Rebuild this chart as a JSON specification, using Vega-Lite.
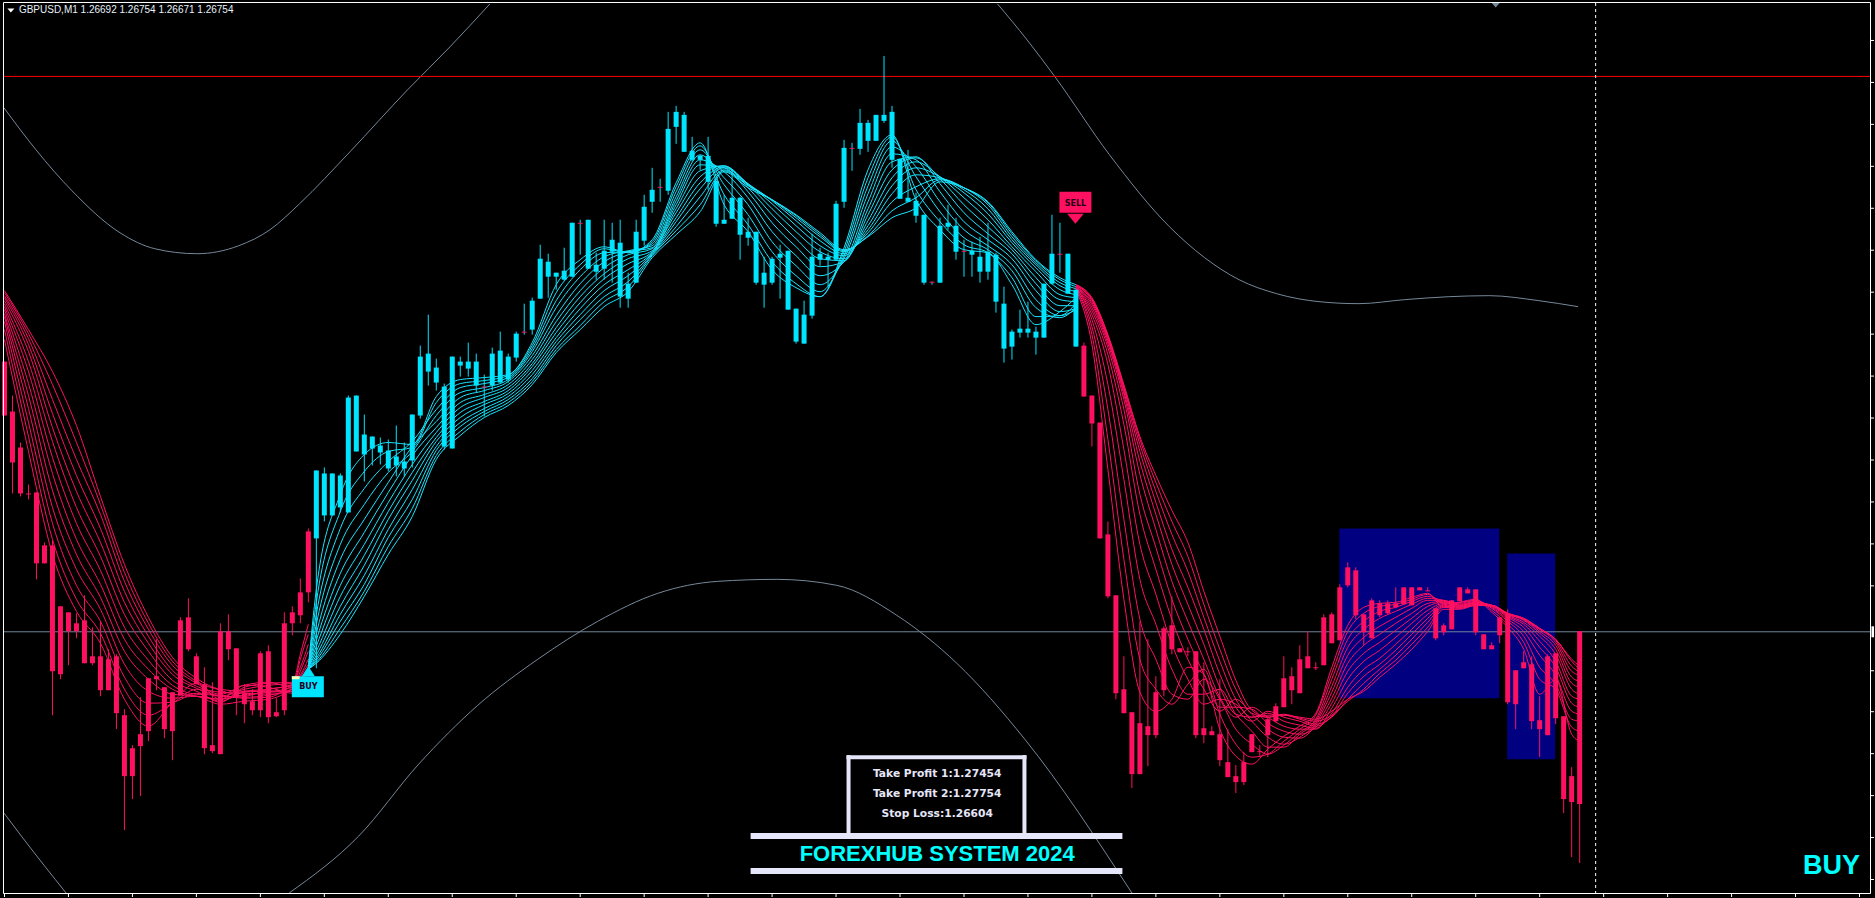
{"$schema":"https://vega.github.io/schema/vega-lite/v6.json","width":1875,"height":898,"padding":0,"autosize":{"type":"fit","contains":"padding"},"background":"#000000","config":{"view":{"stroke":null}},
"datasets":{
"candles":[
{"i":0,"t":"d","hi":362,"top":362,"bot":416,"lo":416},{"i":1,"t":"d","hi":396,"top":412,"bot":463,"lo":494},{"i":2,"t":"d","hi":443,"top":448,"bot":494,"lo":497},{"i":3,"t":"d","hi":485,"top":494,"bot":495,"lo":500},{"i":4,"t":"d","hi":493,"top":493,"bot":564,"lo":580},{"i":5,"t":"d","hi":543,"top":546,"bot":564,"lo":564},{"i":6,"t":"d","hi":541,"top":546,"bot":672,"lo":716},{"i":7,"t":"d","hi":607,"top":607,"bot":675,"lo":680},{"i":8,"t":"d","hi":613,"top":613,"bot":632,"lo":666},{"i":9,"t":"d","hi":614,"top":624,"bot":632,"lo":639},
{"i":10,"t":"d","hi":596,"top":621,"bot":664,"lo":664},{"i":11,"t":"d","hi":628,"top":657,"bot":664,"lo":666},{"i":12,"t":"d","hi":622,"top":657,"bot":691,"lo":697},{"i":13,"t":"d","hi":650,"top":660,"bot":691,"lo":691},{"i":14,"t":"d","hi":655,"top":657,"bot":714,"lo":730},{"i":15,"t":"d","hi":710,"top":716,"bot":777,"lo":831},{"i":16,"t":"d","hi":746,"top":749,"bot":777,"lo":800},{"i":17,"t":"d","hi":698,"top":735,"bot":747,"lo":797},{"i":18,"t":"d","hi":679,"top":679,"bot":732,"lo":742},{"i":19,"t":"d","hi":640,"top":677,"bot":680,"lo":691},
{"i":20,"t":"d","hi":688,"top":688,"bot":730,"lo":739},{"i":21,"t":"d","hi":693,"top":693,"bot":732,"lo":761},{"i":22,"t":"d","hi":618,"top":621,"bot":696,"lo":696},{"i":23,"t":"d","hi":599,"top":618,"bot":650,"lo":652},{"i":24,"t":"d","hi":654,"top":657,"bot":685,"lo":685},{"i":25,"t":"d","hi":668,"top":685,"bot":749,"lo":755},{"i":26,"t":"d","hi":683,"top":746,"bot":752,"lo":754},{"i":27,"t":"d","hi":624,"top":632,"bot":755,"lo":755},{"i":28,"t":"d","hi":615,"top":632,"bot":650,"lo":661},{"i":29,"t":"d","hi":649,"top":649,"bot":698,"lo":716},
{"i":30,"t":"d","hi":685,"top":694,"bot":705,"lo":724},{"i":31,"t":"d","hi":690,"top":702,"bot":711,"lo":716},{"i":32,"t":"d","hi":652,"top":654,"bot":711,"lo":718},{"i":33,"t":"d","hi":646,"top":652,"bot":718,"lo":724},{"i":34,"t":"d","hi":699,"top":713,"bot":717,"lo":718},{"i":35,"t":"d","hi":613,"top":624,"bot":711,"lo":716},{"i":36,"t":"d","hi":607,"top":613,"bot":624,"lo":636},{"i":37,"t":"d","hi":579,"top":593,"bot":616,"lo":624},{"i":38,"t":"d","hi":529,"top":532,"bot":593,"lo":603},{"i":39,"t":"u","hi":471,"top":471,"bot":539,"lo":669},
{"i":40,"t":"u","hi":468,"top":474,"bot":516,"lo":522},{"i":41,"t":"u","hi":474,"top":474,"bot":516,"lo":516},{"i":42,"t":"u","hi":474,"top":476,"bot":508,"lo":513},{"i":43,"t":"u","hi":396,"top":398,"bot":513,"lo":513},{"i":44,"t":"u","hi":396,"top":396,"bot":452,"lo":452},{"i":45,"t":"u","hi":415,"top":435,"bot":455,"lo":482},{"i":46,"t":"u","hi":437,"top":437,"bot":449,"lo":466},{"i":47,"t":"u","hi":438,"top":446,"bot":453,"lo":465},{"i":48,"t":"u","hi":440,"top":451,"bot":469,"lo":472},{"i":49,"t":"u","hi":426,"top":457,"bot":466,"lo":477},
{"i":50,"t":"u","hi":443,"top":462,"bot":469,"lo":477},{"i":51,"t":"u","hi":415,"top":415,"bot":461,"lo":468},{"i":52,"t":"u","hi":346,"top":357,"bot":416,"lo":419},{"i":53,"t":"u","hi":315,"top":354,"bot":372,"lo":386},{"i":54,"t":"u","hi":359,"top":368,"bot":383,"lo":391},{"i":55,"t":"u","hi":384,"top":387,"bot":447,"lo":450},{"i":56,"t":"u","hi":357,"top":357,"bot":449,"lo":449},{"i":57,"t":"u","hi":357,"top":362,"bot":366,"lo":377},{"i":58,"t":"u","hi":343,"top":362,"bot":369,"lo":377},{"i":59,"t":"u","hi":354,"top":362,"bot":386,"lo":393},
{"i":60,"t":"x","hi":375,"top":387,"bot":388,"lo":417},{"i":61,"t":"u","hi":348,"top":354,"bot":386,"lo":391},{"i":62,"t":"u","hi":332,"top":351,"bot":383,"lo":383},{"i":63,"t":"u","hi":354,"top":357,"bot":380,"lo":383},{"i":64,"t":"u","hi":332,"top":334,"bot":358,"lo":362},{"i":65,"t":"x","hi":304,"top":332,"bot":333,"lo":335},{"i":66,"t":"u","hi":298,"top":301,"bot":330,"lo":335},{"i":67,"t":"u","hi":245,"top":259,"bot":299,"lo":299},{"i":68,"t":"u","hi":254,"top":262,"bot":277,"lo":298},{"i":69,"t":"u","hi":273,"top":273,"bot":277,"lo":290},
{"i":70,"t":"u","hi":248,"top":271,"bot":280,"lo":281},{"i":71,"t":"u","hi":223,"top":223,"bot":277,"lo":277},{"i":72,"t":"x","hi":220,"top":223,"bot":224,"lo":255},{"i":73,"t":"u","hi":220,"top":220,"bot":269,"lo":269},{"i":74,"t":"u","hi":253,"top":265,"bot":272,"lo":280},{"i":75,"t":"u","hi":220,"top":251,"bot":269,"lo":280},{"i":76,"t":"u","hi":223,"top":240,"bot":252,"lo":283},{"i":77,"t":"u","hi":220,"top":243,"bot":297,"lo":308},{"i":78,"t":"u","hi":273,"top":284,"bot":299,"lo":308},{"i":79,"t":"u","hi":220,"top":232,"bot":283,"lo":283},
{"i":80,"t":"u","hi":195,"top":207,"bot":241,"lo":246},{"i":81,"t":"u","hi":168,"top":190,"bot":202,"lo":213},{"i":82,"t":"x","hi":179,"top":187,"bot":188,"lo":202},{"i":83,"t":"u","hi":112,"top":129,"bot":191,"lo":195},{"i":84,"t":"u","hi":106,"top":112,"bot":127,"lo":144},{"i":85,"t":"u","hi":112,"top":115,"bot":152,"lo":152},{"i":86,"t":"u","hi":137,"top":151,"bot":160,"lo":162},{"i":87,"t":"u","hi":155,"top":156,"bot":160,"lo":170},{"i":88,"t":"u","hi":137,"top":156,"bot":182,"lo":190},{"i":89,"t":"u","hi":181,"top":181,"bot":224,"lo":227},
{"i":90,"t":"u","hi":195,"top":220,"bot":224,"lo":224},{"i":91,"t":"u","hi":170,"top":198,"bot":219,"lo":219},{"i":92,"t":"u","hi":197,"top":198,"bot":235,"lo":260},{"i":93,"t":"u","hi":218,"top":232,"bot":238,"lo":246},{"i":94,"t":"u","hi":232,"top":232,"bot":283,"lo":285},{"i":95,"t":"u","hi":257,"top":273,"bot":285,"lo":308},{"i":96,"t":"u","hi":257,"top":259,"bot":283,"lo":285},{"i":97,"t":"u","hi":245,"top":254,"bot":258,"lo":299},{"i":98,"t":"u","hi":251,"top":251,"bot":310,"lo":310},{"i":99,"t":"u","hi":309,"top":309,"bot":342,"lo":344},
{"i":100,"t":"u","hi":301,"top":315,"bot":344,"lo":344},{"i":101,"t":"u","hi":234,"top":257,"bot":316,"lo":319},{"i":102,"t":"u","hi":248,"top":254,"bot":260,"lo":266},{"i":103,"t":"u","hi":253,"top":257,"bot":260,"lo":287},{"i":104,"t":"u","hi":201,"top":204,"bot":260,"lo":260},{"i":105,"t":"u","hi":140,"top":148,"bot":202,"lo":208},{"i":106,"t":"x","hi":143,"top":148,"bot":149,"lo":171},{"i":107,"t":"u","hi":109,"top":123,"bot":149,"lo":155},{"i":108,"t":"u","hi":120,"top":123,"bot":141,"lo":152},{"i":109,"t":"u","hi":115,"top":115,"bot":141,"lo":141},
{"i":110,"t":"u","hi":56,"top":115,"bot":121,"lo":123},{"i":111,"t":"u","hi":106,"top":112,"bot":160,"lo":168},{"i":112,"t":"u","hi":159,"top":159,"bot":199,"lo":199},{"i":113,"t":"u","hi":150,"top":198,"bot":202,"lo":202},{"i":114,"t":"u","hi":193,"top":201,"bot":216,"lo":223},{"i":115,"t":"u","hi":215,"top":215,"bot":283,"lo":285},{"i":116,"t":"x","hi":282,"top":282,"bot":283,"lo":285},{"i":117,"t":"u","hi":218,"top":226,"bot":283,"lo":283},{"i":118,"t":"u","hi":205,"top":223,"bot":227,"lo":230},{"i":119,"t":"u","hi":218,"top":226,"bot":252,"lo":260},
{"i":120,"t":"x","hi":240,"top":251,"bot":252,"lo":277},{"i":121,"t":"u","hi":242,"top":251,"bot":255,"lo":277},{"i":122,"t":"u","hi":237,"top":257,"bot":272,"lo":283},{"i":123,"t":"u","hi":223,"top":252,"bot":272,"lo":280},{"i":124,"t":"u","hi":253,"top":255,"bot":302,"lo":313},{"i":125,"t":"u","hi":287,"top":304,"bot":349,"lo":363},{"i":126,"t":"u","hi":330,"top":332,"bot":347,"lo":360},{"i":127,"t":"u","hi":310,"top":329,"bot":333,"lo":338},{"i":128,"t":"u","hi":302,"top":329,"bot":333,"lo":338},{"i":129,"t":"u","hi":327,"top":332,"bot":338,"lo":355},
{"i":130,"t":"u","hi":284,"top":284,"bot":338,"lo":338},{"i":131,"t":"u","hi":215,"top":254,"bot":284,"lo":285},{"i":132,"t":"x","hi":223,"top":254,"bot":255,"lo":273},{"i":133,"t":"u","hi":254,"top":254,"bot":294,"lo":294},{"i":134,"t":"u","hi":290,"top":290,"bot":347,"lo":347},{"i":135,"t":"d","hi":343,"top":346,"bot":397,"lo":397},{"i":136,"t":"d","hi":396,"top":396,"bot":424,"lo":447},{"i":137,"t":"d","hi":423,"top":423,"bot":539,"lo":539},{"i":138,"t":"d","hi":522,"top":535,"bot":597,"lo":599},{"i":139,"t":"d","hi":596,"top":596,"bot":694,"lo":700},
{"i":140,"t":"d","hi":657,"top":690,"bot":714,"lo":714},{"i":141,"t":"d","hi":713,"top":713,"bot":775,"lo":789},{"i":142,"t":"d","hi":622,"top":724,"bot":775,"lo":775},{"i":143,"t":"d","hi":640,"top":727,"bot":736,"lo":767},{"i":144,"t":"d","hi":677,"top":693,"bot":736,"lo":739},{"i":145,"t":"d","hi":627,"top":629,"bot":691,"lo":697},{"i":146,"t":"d","hi":597,"top":626,"bot":650,"lo":655},{"i":147,"t":"d","hi":649,"top":649,"bot":653,"lo":653},{"i":148,"t":"d","hi":648,"top":652,"bot":653,"lo":657},{"i":149,"t":"d","hi":652,"top":652,"bot":736,"lo":739},
{"i":150,"t":"d","hi":663,"top":729,"bot":736,"lo":744},{"i":151,"t":"d","hi":727,"top":732,"bot":736,"lo":736},{"i":152,"t":"d","hi":680,"top":735,"bot":761,"lo":767},{"i":153,"t":"d","hi":730,"top":763,"bot":778,"lo":778},{"i":154,"t":"d","hi":766,"top":777,"bot":783,"lo":794},{"i":155,"t":"d","hi":753,"top":763,"bot":783,"lo":786},{"i":156,"t":"d","hi":735,"top":735,"bot":753,"lo":753},{"i":157,"t":"d","hi":746,"top":752,"bot":753,"lo":758},{"i":158,"t":"d","hi":717,"top":720,"bot":736,"lo":758},{"i":159,"t":"d","hi":704,"top":707,"bot":722,"lo":723},
{"i":160,"t":"d","hi":657,"top":679,"bot":708,"lo":708},{"i":161,"t":"d","hi":668,"top":677,"bot":691,"lo":705},{"i":162,"t":"d","hi":646,"top":660,"bot":694,"lo":694},{"i":163,"t":"d","hi":632,"top":657,"bot":669,"lo":669},{"i":164,"t":"d","hi":663,"top":668,"bot":669,"lo":671},{"i":165,"t":"d","hi":615,"top":618,"bot":666,"lo":666},{"i":166,"t":"d","hi":613,"top":615,"bot":644,"lo":644},{"i":167,"t":"d","hi":585,"top":588,"bot":641,"lo":641},{"i":168,"t":"d","hi":563,"top":568,"bot":586,"lo":588},{"i":169,"t":"d","hi":568,"top":571,"bot":616,"lo":620},
{"i":170,"t":"d","hi":615,"top":615,"bot":633,"lo":646},{"i":171,"t":"d","hi":599,"top":601,"bot":639,"lo":639},{"i":172,"t":"d","hi":601,"top":604,"bot":616,"lo":618},{"i":173,"t":"d","hi":601,"top":604,"bot":614,"lo":615},{"i":174,"t":"d","hi":588,"top":604,"bot":608,"lo":609},{"i":175,"t":"d","hi":588,"top":588,"bot":605,"lo":605},{"i":176,"t":"d","hi":588,"top":588,"bot":606,"lo":606},{"i":177,"t":"d","hi":588,"top":588,"bot":591,"lo":591},{"i":178,"t":"d","hi":588,"top":591,"bot":592,"lo":592},{"i":179,"t":"d","hi":609,"top":609,"bot":639,"lo":641},
{"i":180,"t":"d","hi":624,"top":626,"bot":633,"lo":636},{"i":181,"t":"d","hi":601,"top":601,"bot":630,"lo":630},{"i":182,"t":"d","hi":588,"top":588,"bot":602,"lo":602},{"i":183,"t":"d","hi":588,"top":590,"bot":594,"lo":594},{"i":184,"t":"d","hi":590,"top":590,"bot":633,"lo":636},{"i":185,"t":"d","hi":635,"top":635,"bot":650,"lo":650},{"i":186,"t":"d","hi":643,"top":646,"bot":650,"lo":650},{"i":187,"t":"d","hi":618,"top":618,"bot":636,"lo":644},{"i":188,"t":"d","hi":610,"top":615,"bot":703,"lo":705},{"i":189,"t":"d","hi":671,"top":671,"bot":705,"lo":730},
{"i":190,"t":"d","hi":652,"top":663,"bot":669,"lo":669},{"i":191,"t":"d","hi":657,"top":665,"bot":722,"lo":730},{"i":192,"t":"d","hi":697,"top":721,"bot":730,"lo":758},{"i":193,"t":"d","hi":655,"top":657,"bot":736,"lo":736},{"i":194,"t":"d","hi":654,"top":654,"bot":719,"lo":725},{"i":195,"t":"d","hi":717,"top":717,"bot":800,"lo":814},{"i":196,"t":"d","hi":768,"top":777,"bot":803,"lo":858},{"i":197,"t":"d","hi":632,"top":632,"bot":805,"lo":864}
],
"ribbon":[
{"seg":"p1","i":0,"a":340,"b":330,"c":322,"d":317,"e":314,"f":310,"g":307,"h":304,"j":301,"k":298,"l":296,"m":293,"n":291},
{"seg":"p1","i":3,"a":452,"b":437,"c":423,"d":409,"e":396,"f":384,"g":372,"h":362,"j":352,"k":345,"l":339,"m":334,"n":330},
{"seg":"p1","i":6,"a":555,"b":540,"c":524,"d":508,"e":491,"f":474,"g":458,"h":442,"j":428,"k":414,"l":400,"m":385,"n":372},
{"seg":"p1","i":9,"a":612,"b":600,"c":586,"d":570,"e":555,"f":540,"g":524,"h":508,"j":492,"k":476,"l":460,"m":443,"n":426},
{"seg":"p1","i":12,"a":644,"b":634,"c":622,"d":610,"e":598,"f":585,"g":571,"h":557,"j":543,"k":529,"l":515,"m":505,"n":497},
{"seg":"p1","i":15,"a":700,"b":690,"c":678,"d":665,"e":652,"f":640,"g":628,"h":615,"j":603,"k":592,"l":582,"m":573,"n":565},
{"seg":"p1","i":18,"a":727,"b":716,"c":704,"d":692,"e":680,"f":670,"g":661,"h":652,"j":644,"k":637,"l":630,"m":624,"n":618},
{"seg":"p1","i":21,"a":703,"b":704,"c":703,"d":699,"e":695,"f":690,"g":686,"h":681,"j":675,"k":671,"l":666,"m":662,"n":658},
{"seg":"p1","i":24,"a":684,"b":690,"c":694,"d":697,"e":697,"f":697,"g":695,"h":692,"j":689,"k":687,"l":684,"m":682,"n":679},
{"seg":"p1","i":27,"a":700,"b":697,"c":703,"d":700,"e":705,"f":700,"g":696,"h":702,"j":697,"k":693,"l":695,"m":691,"n":690},
{"seg":"p1","i":30,"a":692,"b":698,"c":688,"d":696,"e":702,"f":686,"g":699,"h":693,"j":690,"k":694,"l":686,"m":697,"n":692},
{"seg":"p1","i":33,"a":690,"b":696,"c":684,"d":693,"e":700,"f":688,"g":698,"h":692,"j":686,"k":695,"l":683,"m":690,"n":692},
{"seg":"p1","i":36,"a":685,"b":690,"c":683,"d":692,"e":688,"f":694,"g":686,"h":692,"j":684,"k":690,"l":688,"m":686,"n":688},
{"seg":"p1","i":37,"a":655,"b":660,"c":668,"d":672,"e":676,"f":678,"g":680,"h":680,"j":682,"k":682,"l":682,"m":682,"n":680},
{"seg":"p1","i":38,"a":625,"b":635,"c":645,"d":652,"e":660,"f":665,"g":668,"h":670,"j":672,"k":672,"l":672,"m":670,"n":670},
{"seg":"c","i":38,"a":668,"b":668,"c":668,"d":669,"e":669,"f":669,"g":669,"h":669,"j":670,"k":670,"l":670,"m":670,"n":670},
{"seg":"c","i":39,"a":590,"b":603,"c":615,"d":625,"e":634,"f":641,"g":647,"h":652,"j":656,"k":659,"l":661,"m":663,"n":664},
{"seg":"c","i":42,"a":495,"b":512,"c":529,"d":545,"e":560,"f":574,"g":586,"h":597,"j":607,"k":615,"l":622,"m":629,"n":635},
{"seg":"c","i":45,"a":455,"b":472,"c":489,"d":505,"e":520,"f":533,"g":545,"h":556,"j":566,"k":576,"l":585,"m":592,"n":597},
{"seg":"c","i":48,"a":443,"b":452,"c":462,"d":473,"e":483,"f":493,"g":503,"h":512,"j":520,"k":530,"l":538,"m":547,"n":555},
{"seg":"c","i":51,"a":445,"b":448,"c":442,"d":452,"e":447,"f":456,"g":465,"h":473,"j":481,"k":490,"l":500,"m":509,"n":517},
{"seg":"c","i":54,"a":397,"b":403,"c":410,"d":416,"e":422,"f":428,"g":433,"h":438,"j":442,"k":447,"l":451,"m":456,"n":460},
{"seg":"c","i":57,"a":380,"b":384,"c":388,"d":393,"e":398,"f":403,"g":408,"h":413,"j":418,"k":423,"l":427,"m":432,"n":436},
{"seg":"c","i":60,"a":378,"b":381,"c":384,"d":388,"e":391,"f":395,"g":398,"h":402,"j":405,"k":409,"l":412,"m":415,"n":418},
{"seg":"c","i":63,"a":375,"b":376,"c":378,"d":380,"e":382,"f":385,"g":388,"h":391,"j":394,"k":397,"l":400,"m":403,"n":406},
{"seg":"c","i":66,"a":343,"b":346,"c":349,"d":352,"e":356,"f":360,"g":364,"h":367,"j":371,"k":375,"l":379,"m":382,"n":385},
{"seg":"c","i":69,"a":285,"b":293,"c":301,"d":308,"e":316,"f":322,"g":328,"h":333,"j":338,"k":342,"l":346,"m":350,"n":353},
{"seg":"c","i":72,"a":260,"b":265,"c":270,"d":277,"e":284,"f":291,"g":297,"h":303,"j":309,"k":315,"l":320,"m":326,"n":330},
{"seg":"c","i":75,"a":247,"b":249,"c":253,"d":257,"e":262,"f":268,"g":274,"h":279,"j":285,"k":291,"l":297,"m":302,"n":307},
{"seg":"c","i":78,"a":253,"b":253,"c":252,"d":251,"e":252,"f":255,"g":259,"h":264,"j":270,"k":276,"l":282,"m":287,"n":292},
{"seg":"c","i":81,"a":240,"b":242,"c":244,"d":246,"e":248,"f":249,"g":251,"h":252,"j":253,"k":254,"l":255,"m":256,"n":258},
{"seg":"c","i":84,"a":183,"b":187,"c":192,"d":197,"e":201,"f":205,"g":209,"h":213,"j":218,"k":222,"l":227,"m":231,"n":235},
{"seg":"c","i":87,"a":143,"b":146,"c":150,"d":155,"e":160,"f":165,"g":171,"h":177,"j":183,"k":189,"l":197,"m":205,"n":212},
{"seg":"c","i":90,"a":205,"b":195,"c":185,"d":178,"e":172,"f":168,"g":166,"h":166,"j":167,"k":168,"l":170,"m":171,"n":172},
{"seg":"c","i":93,"a":232,"b":225,"c":215,"d":205,"e":198,"f":192,"g":188,"h":185,"j":184,"k":184,"l":185,"m":186,"n":188},
{"seg":"c","i":96,"a":270,"b":262,"c":252,"d":242,"e":232,"f":223,"g":215,"h":209,"j":204,"k":201,"l":200,"m":200,"n":200},
{"seg":"c","i":99,"a":288,"b":284,"c":276,"d":266,"e":256,"f":247,"g":239,"h":232,"j":226,"k":221,"l":218,"m":216,"n":215},
{"seg":"c","i":102,"a":297,"b":297,"c":292,"d":285,"e":276,"f":267,"g":259,"h":252,"j":246,"k":241,"l":237,"m":235,"n":233},
{"seg":"c","i":105,"a":248,"b":252,"c":256,"d":259,"e":262,"f":262,"g":261,"h":259,"j":256,"k":254,"l":252,"m":251,"n":250},
{"seg":"c","i":108,"a":170,"b":178,"c":186,"d":194,"e":202,"f":209,"g":215,"h":221,"j":226,"k":230,"l":233,"m":236,"n":237},
{"seg":"c","i":111,"a":135,"b":137,"c":141,"d":147,"e":154,"f":162,"g":170,"h":178,"j":186,"k":194,"l":202,"m":211,"n":218},
{"seg":"c","i":114,"a":200,"b":190,"c":177,"d":167,"e":160,"f":157,"g":158,"h":162,"j":168,"k":175,"l":187,"m":198,"n":208},
{"seg":"c","i":117,"a":230,"b":222,"c":212,"d":202,"e":192,"f":184,"g":179,"h":177,"j":177,"k":178,"l":179,"m":180,"n":182},
{"seg":"c","i":120,"a":250,"b":245,"c":238,"d":230,"e":222,"f":213,"g":205,"h":198,"j":193,"k":190,"l":188,"m":188,"n":188},
{"seg":"c","i":123,"a":253,"b":253,"c":250,"d":246,"e":240,"f":234,"g":227,"h":220,"j":214,"k":209,"l":205,"m":203,"n":202},
{"seg":"c","i":126,"a":285,"b":278,"c":271,"d":265,"e":259,"f":254,"g":250,"h":247,"j":243,"k":240,"l":237,"m":234,"n":232},
{"seg":"c","i":129,"a":325,"b":317,"c":308,"d":300,"e":291,"f":284,"g":278,"h":272,"j":268,"k":265,"l":263,"m":261,"n":260},
{"seg":"c","i":132,"a":312,"b":316,"c":318,"d":316,"e":312,"f":306,"g":300,"h":295,"j":290,"k":286,"l":283,"m":280,"n":278},
{"seg":"c","i":134,"a":298,"b":304,"c":308,"d":310,"e":309,"f":306,"g":302,"h":298,"j":295,"k":292,"l":289,"m":287,"n":285},
{"seg":"p2","i":134,"a":290,"b":289,"c":289,"d":288,"e":288,"f":288,"g":287,"h":287,"j":287,"k":286,"l":286,"m":285,"n":285},
{"seg":"p2","i":136,"a":345,"b":335,"c":327,"d":320,"e":315,"f":311,"g":308,"h":305,"j":303,"k":301,"l":300,"m":299,"n":298},
{"seg":"p2","i":138,"a":470,"b":440,"c":410,"d":385,"e":365,"f":355,"g":348,"h":344,"j":341,"k":339,"l":337,"m":336,"n":335},
{"seg":"p2","i":140,"a":600,"b":560,"c":520,"d":480,"e":450,"f":425,"g":410,"h":400,"j":395,"k":392,"l":389,"m":387,"n":385},
{"seg":"p2","i":142,"a":693,"b":660,"c":620,"d":580,"e":545,"f":515,"g":495,"h":475,"j":462,"k":452,"l":445,"m":440,"n":437},
{"seg":"p2","i":144,"a":712,"b":690,"c":660,"d":625,"e":595,"f":570,"g":548,"h":530,"j":515,"k":503,"l":492,"m":483,"n":476},
{"seg":"p2","i":146,"a":700,"b":705,"c":695,"d":670,"e":645,"f":620,"g":600,"h":582,"j":565,"k":550,"l":535,"m":522,"n":511},
{"seg":"p2","i":148,"a":668,"b":685,"c":700,"d":695,"e":680,"f":660,"g":640,"h":622,"j":605,"k":588,"l":572,"m":557,"n":543},
{"seg":"p2","i":150,"a":675,"b":670,"c":680,"d":695,"e":705,"f":690,"g":675,"h":660,"j":645,"k":630,"l":618,"m":605,"n":592},
{"seg":"p2","i":152,"a":730,"b":715,"c":700,"d":690,"e":700,"f":712,"g":708,"h":698,"j":688,"k":675,"l":662,"m":650,"n":637},
{"seg":"p2","i":154,"a":757,"b":745,"c":730,"d":715,"e":705,"f":700,"g":708,"h":718,"j":715,"k":708,"l":700,"m":690,"n":681},
{"seg":"p2","i":156,"a":765,"b":758,"c":745,"d":732,"e":722,"f":715,"g":710,"h":708,"j":718,"k":722,"l":718,"m":714,"n":711},
{"seg":"p2","i":158,"a":750,"b":755,"c":755,"d":748,"e":738,"f":730,"g":724,"h":718,"j":714,"k":712,"l":716,"m":718,"n":718},
{"seg":"p2","i":160,"a":737,"b":742,"c":746,"d":748,"e":745,"f":738,"g":732,"h":727,"j":722,"k":718,"l":716,"m":715,"n":716},
{"seg":"p2","i":162,"a":727,"b":730,"c":733,"d":735,"e":738,"f":739,"g":735,"h":730,"j":726,"k":722,"l":720,"m":719,"n":718},
{"seg":"p2","i":164,"a":714,"b":716,"c":720,"d":722,"e":724,"f":726,"g":728,"h":730,"j":729,"k":727,"l":725,"m":722,"n":720},
{"seg":"p2","i":166,"a":668,"b":674,"c":680,"d":687,"e":693,"f":699,"g":704,"h":709,"j":714,"k":717,"l":718,"m":716,"n":712},
{"seg":"p2","i":168,"a":626,"b":632,"c":640,"d":648,"e":656,"f":664,"g":672,"h":680,"j":688,"k":694,"l":700,"m":702,"n":700},
{"seg":"p2","i":170,"a":608,"b":614,"c":622,"d":630,"e":638,"f":646,"g":654,"h":662,"j":670,"k":677,"l":684,"m":690,"n":692},
{"seg":"p2","i":172,"a":604,"b":607,"c":612,"d":619,"e":627,"f":635,"g":643,"h":651,"j":659,"k":665,"l":670,"m":674,"n":678},
{"seg":"p2","i":174,"a":603,"b":605,"c":608,"d":612,"e":618,"f":624,"g":631,"h":638,"j":645,"k":651,"l":656,"m":661,"n":665},
{"seg":"p2","i":176,"a":598,"b":600,"c":602,"d":605,"e":609,"f":614,"g":619,"h":624,"j":630,"k":635,"l":640,"m":645,"n":650},
{"seg":"p2","i":178,"a":594,"b":595,"c":597,"d":599,"e":601,"f":604,"g":607,"h":611,"j":615,"k":619,"l":623,"m":628,"n":632},
{"seg":"p2","i":180,"a":608,"b":604,"c":602,"d":601,"e":601,"f":602,"g":603,"h":604,"j":605,"k":606,"l":607,"m":608,"n":610},
{"seg":"p2","i":182,"a":603,"b":603,"c":604,"d":605,"e":606,"f":606,"g":607,"h":607,"j":608,"k":608,"l":609,"m":609,"n":610},
{"seg":"p2","i":184,"a":600,"b":601,"c":601,"d":602,"e":603,"f":603,"g":604,"h":604,"j":605,"k":605,"l":606,"m":606,"n":606},
{"seg":"p2","i":186,"a":613,"b":611,"c":609,"d":608,"e":607,"f":606,"g":606,"h":606,"j":606,"k":606,"l":606,"m":606,"n":607},
{"seg":"p2","i":188,"a":628,"b":625,"c":622,"d":620,"e":618,"f":617,"g":616,"h":615,"j":615,"k":614,"l":614,"m":614,"n":614},
{"seg":"p2","i":190,"a":650,"b":643,"c":637,"d":632,"e":628,"f":625,"g":623,"h":621,"j":620,"k":620,"l":619,"m":619,"n":620},
{"seg":"p2","i":192,"a":695,"b":680,"c":668,"d":656,"e":648,"f":642,"g":637,"h":634,"j":632,"k":630,"l":629,"m":629,"n":630},
{"seg":"p2","i":194,"a":680,"b":690,"c":685,"d":676,"e":668,"f":662,"g":655,"h":650,"j":646,"k":643,"l":641,"m":640,"n":640},
{"seg":"p2","i":196,"a":735,"b":728,"c":720,"d":712,"e":704,"f":697,"g":690,"h":684,"j":678,"k":672,"l":667,"m":662,"n":660},
{"seg":"p2","i":197,"a":742,"b":732,"c":722,"d":715,"e":708,"f":700,"g":695,"h":688,"j":682,"k":676,"l":673,"m":670,"n":667}
],
"curves":[
{"c":"A","i":-0.06,"v":108},{"c":"A","i":3.94,"v":150},{"c":"A","i":8.44,"v":191},{"c":"A","i":14.44,"v":233},{"c":"A","i":18.8,"v":249},{"c":"A","i":24.06,"v":254},{"c":"A","i":29.3,"v":246},{"c":"A","i":33.2,"v":230},{"c":"A","i":36.9,"v":204},{"c":"A","i":43.2,"v":152},{"c":"A","i":50.4,"v":90},{"c":"A","i":55.7,"v":47},{"c":"A","i":60.7,"v":4},
{"c":"B","i":124.2,"v":4},{"c":"B","i":127.9,"v":40},{"c":"B","i":131.3,"v":76},{"c":"B","i":138.2,"v":155},{"c":"B","i":145.7,"v":227},{"c":"B","i":150.1,"v":258},{"c":"B","i":154.4,"v":280},{"c":"B","i":159.1,"v":294},{"c":"B","i":164.4,"v":302},{"c":"B","i":169.4,"v":304},{"c":"B","i":175.1,"v":300},{"c":"B","i":180.7,"v":297},{"c":"B","i":185.7,"v":296},{"c":"B","i":191.9,"v":301},{"c":"B","i":196.8,"v":307},
{"c":"C","i":35.6,"v":894},{"c":"C","i":44.3,"v":837},{"c":"C","i":51.8,"v":765},{"c":"C","i":59.2,"v":706},{"c":"C","i":66.7,"v":660},{"c":"C","i":74.2,"v":622},{"c":"C","i":81.7,"v":594},{"c":"C","i":89.2,"v":582},{"c":"C","i":96.6,"v":580},{"c":"C","i":104.1,"v":586},{"c":"C","i":111.6,"v":616},{"c":"C","i":119.1,"v":664},{"c":"C","i":127.6,"v":740},{"c":"C","i":141,"v":894},
{"c":"D","i":-0.06,"v":814},{"c":"D","i":2.3,"v":839},{"c":"D","i":7.7,"v":894}
],
"boxes":[
{"k":"zone","x1":166.9375,"x2":186.9375,"y1":529,"y2":699},{"k":"zone","x1":187.9375,"x2":193.9375,"y1":554,"y2":760}
],
"panel":[
{"x1":93.3125,"x2":139.8125,"y1":834,"y2":840},{"x1":93.3125,"x2":139.8125,"y1":869,"y2":875},{"x1":105.3125,"x2":127.8125,"y1":756,"y2":760},{"x1":105.3125,"x2":105.8125,"y1":756,"y2":834},{"x1":127.3125,"x2":127.8125,"y1":756,"y2":834}
],
"signals":[
{"k":"buy","x1":35.9375,"x2":39.9375,"y1":677,"y2":698},{"k":"sell","x1":131.9375,"x2":135.9375,"y1":192,"y2":213},{"k":"mark","x1":35.9375,"x2":36.9,"y1":677,"y2":680},{"k":"tag","x1":233.5,"x2":233.8125,"y1":627,"y2":638}
],
"levels":[
{"s":"price","x1":-0.0625,"x2":233.375,"lvl":632.5},{"s":"stop","x1":-0.0625,"x2":233.375,"lvl":76.5}
],
"frame":[
{"x1":-0.125,"x2":233.375,"y1":2.5,"y2":2.5},{"x1":-0.125,"x2":233.375,"y1":894.5,"y2":894.5},{"x1":-0.125,"x2":-0.125,"y1":2.5,"y2":894.5},{"x1":233.375,"x2":233.375,"y1":2.5,"y2":894.5},
{"x1":0,"x2":0,"y1":895,"y2":898},{"x1":8,"x2":8,"y1":895,"y2":898},{"x1":16,"x2":16,"y1":895,"y2":898},{"x1":24,"x2":24,"y1":895,"y2":898},{"x1":32,"x2":32,"y1":895,"y2":898},{"x1":40,"x2":40,"y1":895,"y2":898},{"x1":48,"x2":48,"y1":895,"y2":898},{"x1":56,"x2":56,"y1":895,"y2":898},{"x1":64,"x2":64,"y1":895,"y2":898},{"x1":72,"x2":72,"y1":895,"y2":898},{"x1":80,"x2":80,"y1":895,"y2":898},{"x1":88,"x2":88,"y1":895,"y2":898},{"x1":96,"x2":96,"y1":895,"y2":898},{"x1":104,"x2":104,"y1":895,"y2":898},{"x1":112,"x2":112,"y1":895,"y2":898},{"x1":120,"x2":120,"y1":895,"y2":898},{"x1":128,"x2":128,"y1":895,"y2":898},{"x1":136,"x2":136,"y1":895,"y2":898},{"x1":144,"x2":144,"y1":895,"y2":898},{"x1":152,"x2":152,"y1":895,"y2":898},{"x1":160,"x2":160,"y1":895,"y2":898},{"x1":168,"x2":168,"y1":895,"y2":898},{"x1":176,"x2":176,"y1":895,"y2":898},{"x1":184,"x2":184,"y1":895,"y2":898},{"x1":192,"x2":192,"y1":895,"y2":898},{"x1":200,"x2":200,"y1":895,"y2":898},{"x1":208,"x2":208,"y1":895,"y2":898},{"x1":216,"x2":216,"y1":895,"y2":898},{"x1":224,"x2":224,"y1":895,"y2":898},{"x1":232,"x2":232,"y1":895,"y2":898},
{"x1":233.375,"x2":233.8125,"y1":880.5,"y2":880.5},{"x1":233.375,"x2":233.8125,"y1":838.5,"y2":838.5},{"x1":233.375,"x2":233.8125,"y1":796.5,"y2":796.5},{"x1":233.375,"x2":233.8125,"y1":754.5,"y2":754.5},{"x1":233.375,"x2":233.8125,"y1":712.5,"y2":712.5},{"x1":233.375,"x2":233.8125,"y1":671.5,"y2":671.5},{"x1":233.375,"x2":233.8125,"y1":586.5,"y2":586.5},{"x1":233.375,"x2":233.8125,"y1":544.5,"y2":544.5},{"x1":233.375,"x2":233.8125,"y1":502.5,"y2":502.5},{"x1":233.375,"x2":233.8125,"y1":460.5,"y2":460.5},{"x1":233.375,"x2":233.8125,"y1":418.5,"y2":418.5},{"x1":233.375,"x2":233.8125,"y1":376.5,"y2":376.5},{"x1":233.375,"x2":233.8125,"y1":334.5,"y2":334.5},{"x1":233.375,"x2":233.8125,"y1":292.5,"y2":292.5},{"x1":233.375,"x2":233.8125,"y1":250.5,"y2":250.5},{"x1":233.375,"x2":233.8125,"y1":208.5,"y2":208.5},{"x1":233.375,"x2":233.8125,"y1":166.5,"y2":166.5},{"x1":233.375,"x2":233.8125,"y1":124.5,"y2":124.5},{"x1":233.375,"x2":233.8125,"y1":82.5,"y2":82.5},{"x1":233.375,"x2":233.8125,"y1":40.5,"y2":40.5}
]
},
"layer":[
{"data":{"name":"boxes"},"mark":{"type":"rect","fill":"#000080"},"encoding":{"x":{"field":"x1","type":"quantitative","axis":null,"scale":{"domain":[-0.5625,233.8125],"nice":false,"zero":false}},"x2":{"field":"x2"},"y":{"field":"y1","type":"quantitative","axis":null,"scale":{"domain":[898,0],"nice":false,"zero":false}},"y2":{"field":"y2"}}},
{"data":{"name":"curves"},"mark":{"type":"line","stroke":"#778899","strokeWidth":1,"interpolate":"monotone"},"encoding":{"x":{"field":"i","type":"quantitative"},"y":{"field":"v","type":"quantitative"},"detail":{"field":"c"}}},
{"data":{"name":"levels"},"mark":{"type":"rule","strokeWidth":1},"encoding":{"x":{"field":"x1","type":"quantitative"},"x2":{"field":"x2"},"y":{"field":"lvl","type":"quantitative"},"color":{"field":"s","type":"nominal","legend":null,"scale":{"domain":["price","stop"],"range":["#708799","#FF0000"]}}}},
{"data":{"name":"ribbon"},"transform":[{"fold":["a","b","c","d","e","f","g","h","j","k","l","m","n"],"as":["line","lvl"]}],"mark":{"type":"line","strokeWidth":1,"interpolate":"monotone"},"encoding":{"x":{"field":"i","type":"quantitative"},"y":{"field":"lvl","type":"quantitative"},"detail":{"field":"line"},"color":{"field":"seg","type":"nominal","legend":null,"scale":{"domain":["p1","c","p2"],"range":["#FF1060","#19E5FF","#FF1060"]}}}},
{"data":{"name":"candles"},"mark":{"type":"rule","strokeWidth":1},"encoding":{"x":{"field":"i","type":"quantitative"},"y":{"field":"hi","type":"quantitative"},"y2":{"field":"lo"},"color":{"field":"t","type":"nominal","legend":null,"scale":{"domain":["d","u","x"],"range":["#FF1060","#00E5FF","#00E5FF"]}}}},
{"data":{"name":"candles"},"mark":{"type":"rule","strokeWidth":5},"encoding":{"x":{"field":"i","type":"quantitative"},"y":{"field":"top","type":"quantitative"},"y2":{"field":"bot"},"color":{"field":"t","type":"nominal","legend":null,"scale":{"domain":["d","u","x"],"range":["#FF1060","#00E5FF","#FF1060"]}}}},
{"data":{"values":[{"i":199,"a":3,"b":894}]},"mark":{"type":"rule","stroke":"#FFFFFF","strokeWidth":1,"strokeDash":[3,3]},"encoding":{"x":{"field":"i","type":"quantitative"},"y":{"field":"a","type":"quantitative"},"y2":{"field":"b"}}},
{"data":{"name":"signals"},"mark":{"type":"rect"},"encoding":{"x":{"field":"x1","type":"quantitative"},"x2":{"field":"x2"},"y":{"field":"y1","type":"quantitative"},"y2":{"field":"y2"},"color":{"field":"k","type":"nominal","legend":null,"scale":{"domain":["buy","sell","mark","tag"],"range":["#00E5FF","#FF1060","#FFF8B0","#FFFFFF"]}}}},
{"data":{"values":[{"i":38,"v":672}]},"mark":{"type":"point","filled":true,"fill":"#00E5FF","strokeWidth":0,"opacity":1,"size":169,"shape":"M0,-0.77L-1,0.77L1,0.77Z"},"encoding":{"x":{"field":"i","type":"quantitative"},"y":{"field":"v","type":"quantitative"}}},
{"data":{"values":[{"i":133.94,"v":219}]},"mark":{"type":"point","filled":true,"fill":"#FF1060","strokeWidth":0,"opacity":1,"size":276,"shape":"M-1,-0.6L1,-0.6L0,0.6Z"},"encoding":{"x":{"field":"i","type":"quantitative"},"y":{"field":"v","type":"quantitative"}}},
{"data":{"values":[{"i":186.5,"v":5}]},"mark":{"type":"point","filled":true,"fill":"#778899","strokeWidth":0,"opacity":1,"size":76,"shape":"M-1,-0.55L1,-0.55L0,0.55Z"},"encoding":{"x":{"field":"i","type":"quantitative"},"y":{"field":"v","type":"quantitative"}}},
{"data":{"values":[{"i":0.8,"v":10.5}]},"mark":{"type":"point","filled":true,"fill":"#FFFFFF","strokeWidth":0,"opacity":1,"size":49,"shape":"M-1,-0.55L1,-0.55L0,0.55Z"},"encoding":{"x":{"field":"i","type":"quantitative"},"y":{"field":"v","type":"quantitative"}}},
{"data":{"name":"panel"},"mark":{"type":"rect","fill":"#E6E6FA"},"encoding":{"x":{"field":"x1","type":"quantitative"},"x2":{"field":"x2"},"y":{"field":"y1","type":"quantitative"},"y2":{"field":"y2"}}},
{"data":{"values":[{"i":116.65,"v":775,"txt":"Take Profit 1:1.27454"},{"i":116.65,"v":795,"txt":"Take Profit 2:1.27754"},{"i":116.65,"v":815,"txt":"Stop Loss:1.26604"}]},"mark":{"type":"text","font":"DejaVu Sans","fontWeight":"bold","fontSize":10.7,"fill":"#E6E6FA","align":"center","baseline":"middle"},"encoding":{"x":{"field":"i","type":"quantitative"},"y":{"field":"v","type":"quantitative"},"text":{"field":"txt"}}},
{"data":{"values":[{"i":116.65,"v":855,"txt":"FOREXHUB SYSTEM 2024"}]},"mark":{"type":"text","font":"Liberation Sans","fontWeight":"bold","fontSize":22,"fill":"#00FFFF","align":"center","baseline":"middle"},"encoding":{"x":{"field":"i","type":"quantitative"},"y":{"field":"v","type":"quantitative"},"text":{"field":"txt"}}},
{"data":{"values":[{"i":232.06,"v":866.5,"txt":"BUY"}]},"mark":{"type":"text","font":"Liberation Sans","fontWeight":"bold","fontSize":27,"fill":"#00FFFF","align":"right","baseline":"middle"},"encoding":{"x":{"field":"i","type":"quantitative"},"y":{"field":"v","type":"quantitative"},"text":{"field":"txt"}}},
{"data":{"values":[{"i":38,"v":688,"txt":"BUY"},{"i":133.94,"v":204,"txt":"SELL"}]},"mark":{"type":"text","font":"DejaVu Sans","fontWeight":"bold","fontSize":8,"fill":"#220018","align":"center","baseline":"middle"},"encoding":{"x":{"field":"i","type":"quantitative"},"y":{"field":"v","type":"quantitative"},"text":{"field":"txt"}}},
{"data":{"values":[{"i":1.8,"v":10.5,"txt":"GBPUSD,M1  1.26692 1.26754 1.26671 1.26754"}]},"mark":{"type":"text","font":"Liberation Sans","fontSize":10,"fill":"#E8F0F8","align":"left","baseline":"middle"},"encoding":{"x":{"field":"i","type":"quantitative"},"y":{"field":"v","type":"quantitative"},"text":{"field":"txt"}}},
{"data":{"name":"frame"},"mark":{"type":"rule","stroke":"#FFFFFF","strokeWidth":1},"encoding":{"x":{"field":"x1","type":"quantitative"},"x2":{"field":"x2"},"y":{"field":"y1","type":"quantitative"},"y2":{"field":"y2"}}}
],
"resolve":{"scale":{"color":"independent"}}
}
